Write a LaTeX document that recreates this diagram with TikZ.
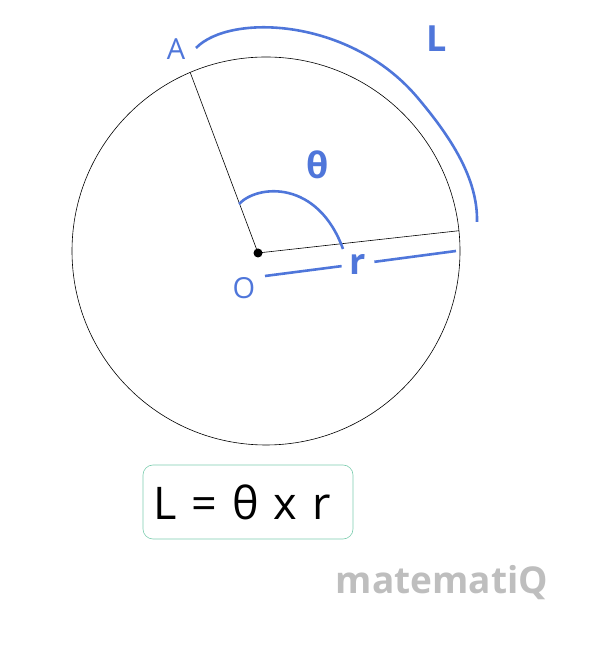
\documentclass[tikz,border=0pt]{standalone}
\usepackage{fontspec}
\setmainfont{Open Sans}
\usetikzlibrary{calc}
\definecolor{arcblue}{RGB}{79,118,218}
\definecolor{boxgreen}{RGB}{125,205,175}
\definecolor{markgrey}{RGB}{190,190,190}
\tikzset{
  bluelbl/.style={text=arcblue, inner sep=1pt},
  blueline/.style={draw=arcblue, line width=2.6pt},
}
\begin{document}
\begin{tikzpicture}[x=1pt,y=1pt]
\useasboundingbox (0,0) rectangle (593,658);
\coordinate (C) at (266,407);
\coordinate (A) at ($(C)+(113:194)$);
\coordinate (B) at ($(C)+(6:194)$);
\node[circle, fill=black, inner sep=0pt, minimum size=9pt] (O) at (258,405) {};

\draw[line width=0.6pt] (C) circle (194);
\draw[line width=0.6pt] (A) -- (O.center) -- (B);

\node[bluelbl, font=\fontsize{29}{30}\selectfont] (Alab) at (176,609) {A};
\node[bluelbl, font=\fontsize{29}{30}\selectfont] (Olab) at (244,370) {O};
\node[bluelbl, font=\fontsize{36}{40}\selectfont\bfseries] (Llab) at (437,619) {L};
\node[bluelbl, font=\fontsize{36}{40}\selectfont\bfseries] (thlab) at (318,493) {θ};
\node[bluelbl, font=\fontsize{36}{40}\selectfont\bfseries, inner xsep=8pt] (rlab) at (358,394) {r};

\coordinate (r1) at (265,382);
\coordinate (r2) at (456,407);
\draw[blueline] (r1) -- (rlab) -- (r2);

% arcs
\draw[blueline] (196,610) .. controls (230,645) and (350,640) .. (417,561)
  .. controls (450,522) and (478,480) .. (477,436);
\draw[blueline] (239,454) .. controls (258,474) and (318,478) .. (343,409);

\node[draw=boxgreen, line width=0.6pt, rounded corners=10pt, text width=190pt, inner xsep=10pt,
  minimum height=74pt, align=left, font=\fontsize{45}{50}\selectfont] (form) at (248,156) {L = θ x r};
\node[text=markgrey, font=\fontsize{37}{40}\selectfont\bfseries] (mark) at (442,75) {matematiQ};
\end{tikzpicture}
\end{document}
